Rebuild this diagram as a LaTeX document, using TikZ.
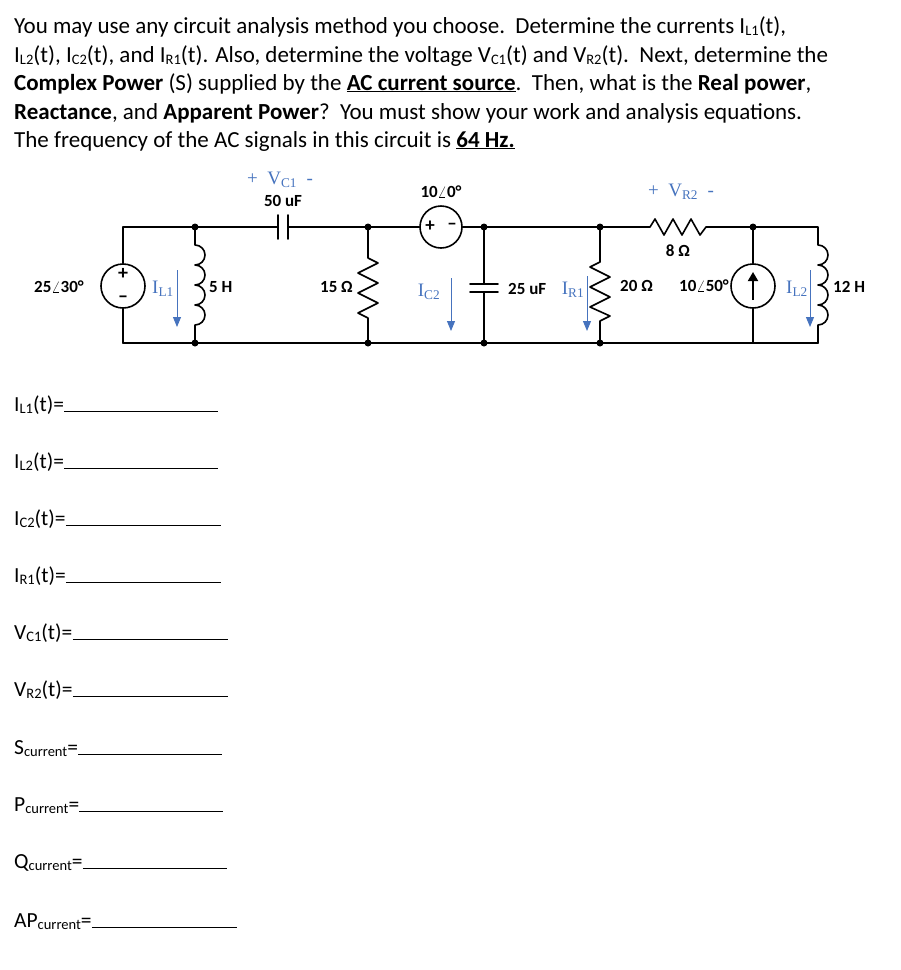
\documentclass[tikz,border=0pt]{standalone}
\usepackage{fontspec}
\setmainfont{Carlito}
\newfontfamily\serifb{Liberation Serif}
\usetikzlibrary{arrows.meta}
\definecolor{lblue}{RGB}{70,115,190}
\tikzset{
  wire/.style={line width=1.6pt, line cap=round, line join=round},
  dot/.style={circle, fill=black, inner sep=0pt, minimum size=7pt},
  txt/.style={font=\fontsize{23}{24}\selectfont, anchor=base west, inner sep=0pt},
  atxt/.style={font=\fontsize{21.5}{24}\selectfont, anchor=base west, inner sep=0pt},
  lbl/.style={font=\fontsize{17}{18}\selectfont\bfseries, inner sep=0pt},
  blbl/.style={font=\fontsize{19}{20}\selectfont\serifb, text=lblue, inner sep=0pt},
  carrow/.style={lblue, line width=1pt, -{Triangle[width=8pt,length=10pt]}},
  ansline/.style={line width=1pt}
}
\newcommand{\sub}[1]{\raisebox{-0.25ex}{\fontsize{14.5}{15}\selectfont #1}}
\begin{document}
\begin{tikzpicture}[x=1pt,y=-1pt]
\useasboundingbox (0,0) rectangle (901,970);
% paragraph
\node[txt] (p1) at (14,33) {You may use any circuit analysis method you choose.\ \ Determine the currents I\sub{L1}(t),};
\node[txt] (p2) at (14,62) {I\sub{L2}(t), I\sub{C2}(t), and I\sub{R1}(t). Also, determine the voltage V\sub{C1}(t) and V\sub{R2}(t).\ \ Next, determine the};
\node[txt] (p3) at (14,90) {\textbf{Complex Power} (S) supplied by the \textbf{\underline{AC current source}}.\ \ Then, what is the \textbf{Real power},};
\node[txt] (p4) at (14,119) {\textbf{Reactance}, and \textbf{Apparent Power}?\ \ You must show your work and analysis equations.};
\node[txt] (p5) at (14,147) {The frequency of the AC signals in this circuit is \textbf{\underline{64 Hz.}}};
% coordinates
\coordinate (tl) at (123,227); \coordinate (bl) at (123,343);
\coordinate (t1) at (195,227); \coordinate (b1) at (195,343);
\coordinate (t2) at (368,227); \coordinate (b2) at (368,343);
\coordinate (t3) at (484,227); \coordinate (b3) at (484,343);
\coordinate (t4) at (600,227); \coordinate (b4) at (600,343);
\coordinate (t5) at (753,227); \coordinate (b5) at (753,343);
\coordinate (tr) at (818,227); \coordinate (br) at (818,343);
% bottom wire
\draw[wire] (bl) -- (br);
% left source
\node[draw, circle, line width=1.6pt, minimum size=44pt, inner sep=0pt] (vs1) at (123,286) {};
\node[font=\bfseries\fontsize{20}{20}\selectfont] at (123,274) {+};
\node[font=\bfseries\fontsize{20}{20}\selectfont] at (123,299) {\textendash};
\draw[wire] (vs1.north) -- (tl) -- (t1);
\draw[wire] (vs1.south) -- (bl);
\node[lbl, anchor=east] (v1l) at (84,287) {25$\angle$30°};
% L1
\draw[wire] (t1) -- (195,245)
  arc[start angle=-90,end angle=90,radius=10]
  arc[start angle=-90,end angle=90,radius=10]
  arc[start angle=-90,end angle=90,radius=10]
  arc[start angle=-90,end angle=90,radius=10] -- (b1);
\node[lbl, anchor=west] (l1l) at (209,287) {5 H};
\node[blbl] (il1) at (163,289) {I\textsubscript{L1}};
\draw[carrow] (177,270) -- (177,327);
% C1
\draw[wire] (t1) -- (278,227); \draw[wire] (288,227) -- (t2);
\draw[wire] (278,215) -- (278,239); \draw[wire] (288,215) -- (288,239);
\node[lbl] (c1l) at (283,201) {50 uF};
\node[blbl] (vc1) at (280,180) {+\ \ V\textsubscript{C1}\ \ -};
% 15 ohm
\draw[wire] (t2) -- (368,258) -- (378,263) -- (358,273) -- (378,283) -- (358,293) -- (378,303) -- (358,313) -- (368,318) -- (b2);
\node[lbl, anchor=east] (r15) at (353,287) {15 Ω};
% 10 angle 0 source
\node[draw, circle, line width=1.6pt, minimum size=42pt, inner sep=0pt] (vs2) at (441,227) {};
\node[font=\bfseries\fontsize{19}{19}\selectfont] at (430,226) {+};
\node[font=\bfseries\fontsize{19}{19}\selectfont] at (452,226) {\textendash};
\draw[wire] (t2) -- (vs2.west);
\draw[wire] (vs2.east) -- (t3);
\node[lbl] (v2l) at (441,192) {10$\angle$0°};
\node[blbl] (ic2) at (429,292) {I\textsubscript{C2}};
\draw[carrow] (451,278) -- (451,331);
% C2
\draw[wire] (t3) -- (484,284); \draw[wire] (484,292) -- (b3);
\draw[wire] (470,284) -- (498,284); \draw[wire] (470,292) -- (498,292);
\node[lbl, anchor=west] (c2l) at (508,289) {25 uF};
% 20 ohm
\draw[wire] (t3) -- (t4);
\draw[wire] (t4) -- (600,262) -- (590,267) -- (610,277) -- (590,287) -- (610,297) -- (590,307) -- (610,316) -- (600,321) -- (b4);
\node[blbl] (ir1) at (573,290) {I\textsubscript{R1}};
\draw[carrow] (587,276) -- (587,331);
\node[lbl, anchor=west] (r20) at (620,286) {20 Ω};
% 8 ohm
\draw[wire] (t4) -- (650,227) -- (655,219) -- (664,235) -- (673,219) -- (682,235) -- (691,219) -- (700,235) -- (706,227) -- (t5);
\node[lbl] (r8) at (678,251) {8 Ω};
\node[blbl] (vr2) at (681,192) {+\ \ V\textsubscript{R2}\ \ -};
% current source
\node[draw, circle, line width=1.6pt, minimum size=44pt, inner sep=0pt] (is) at (753,286) {};
\draw[wire] (t5) -- (is.north); \draw[wire] (is.south) -- (b5);
\draw[line width=1.8pt, -{Triangle[width=10pt,length=9pt]}] (753,300) -- (753,272);
\node[lbl, anchor=east] (isl) at (729,286) {10$\angle$50°};
% L2
\draw[wire] (t5) -- (tr) -- (818,245)
  arc[start angle=-90,end angle=90,radius=10]
  arc[start angle=-90,end angle=90,radius=10]
  arc[start angle=-90,end angle=90,radius=10]
  arc[start angle=-90,end angle=90,radius=10] -- (br);
\node[blbl, anchor=east] (il2) at (808,289) {I\textsubscript{L2}};
\draw[carrow] (810,270) -- (810,327);
\node[lbl, anchor=west] (l2l) at (833,287) {12 H};
% dots
\foreach \p in {t1,b1,t2,b2,t3,b3,t4,b4,t5} \node[dot] at (\p) {};
% answers
\node[atxt] (a1) at (14,411) {I\sub{L1}(t)=}; \draw[ansline] (a1.base east) -- (218,411);
\node[atxt] (a2) at (14,468) {I\sub{L2}(t)=}; \draw[ansline] (a2.base east) -- (218,468);
\node[atxt] (a3) at (14,525) {I\sub{C2}(t)=}; \draw[ansline] (a3.base east) -- (221,525);
\node[atxt] (a4) at (14,582) {I\sub{R1}(t)=}; \draw[ansline] (a4.base east) -- (221,582);
\node[atxt] (a5) at (14,639) {V\sub{C1}(t)=}; \draw[ansline] (a5.base east) -- (228,639);
\node[atxt] (a6) at (14,696) {V\sub{R2}(t)=}; \draw[ansline] (a6.base east) -- (228,696);
\node[atxt] (a7) at (14,754) {S\sub{current}=}; \draw[ansline] (a7.base east) -- (222,754);
\node[atxt] (a8) at (14,811) {P\sub{current}=}; \draw[ansline] (a8.base east) -- (223,811);
\node[atxt] (a9) at (14,868) {Q\sub{current}=}; \draw[ansline] (a9.base east) -- (227,868);
\node[atxt] (a10) at (14,927) {AP\sub{current}=}; \draw[ansline] (a10.base east) -- (237,927);
\end{tikzpicture}
\end{document}
